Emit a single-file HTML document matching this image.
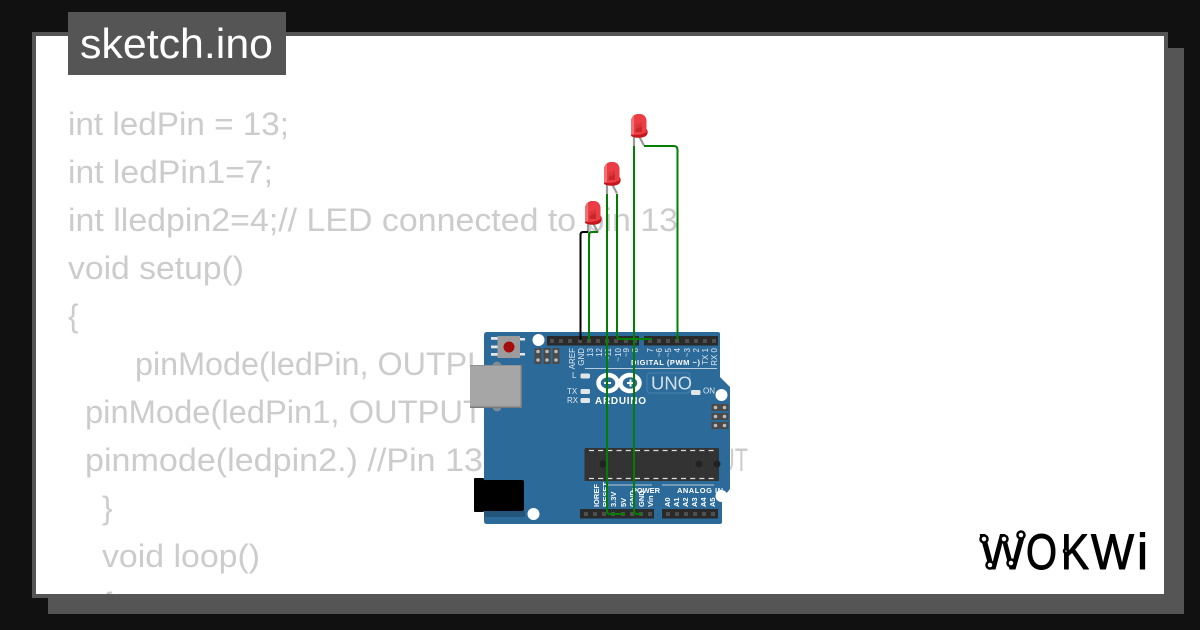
<!DOCTYPE html>
<html>
<head>
<meta charset="utf-8">
<style>
html,body{margin:0;padding:0;background:#111;width:1200px;height:630px;overflow:hidden}
svg{display:block}
.c{font-family:"Liberation Sans",sans-serif;font-size:32px;fill:#ccc}
</style>
</head>
<body>
<svg width="1200" height="630" viewBox="0 0 1200 630" xmlns="http://www.w3.org/2000/svg">
<defs>
<clipPath id="page"><rect x="36" y="36" width="1128" height="558"/></clipPath>
<g id="led">
  <path d="M3 22 V32 M8 22 L13 31.500" stroke="#9a9a9a" stroke-width="2.200" fill="none"/>
  <path d="M0 8 C0 3 3 0 8 0 C13 0 15.500 3 15.500 8 V15 C17.500 17 17 21 14 22.500 C10 24.500 3 24 0 22 Z" fill="#c4161c"/>
  <path d="M0 8 C0 3 3 0 8 0 C13 0 15.500 3 15.500 8 V18 C11 21 5 21.500 0 20.500 Z" fill="#ec3d44"/>
  <path d="M4.500 11 L11 8.500 V18 H4.500 Z" fill="#c9262b"/>
  <path d="M4.500 11 L11 8.500 V12 L4.500 15 Z" fill="#d9363b"/>
  <path d="M0 8 C0 4 2 2 3 1 V20 L0 21 Z" fill="#f59a9c" opacity=".55"/>
</g>
</defs>

<rect width="1200" height="630" fill="#111"/>
<rect x="48" y="48" width="1136" height="566" fill="#555"/>
<rect x="32" y="32" width="1136" height="566" fill="#555"/>
<rect x="36" y="36" width="1128" height="558" fill="#fff"/>

<g clip-path="url(#page)">
<text class="c" x="68" y="135" textLength="221" lengthAdjust="spacingAndGlyphs">int ledPin = 13;</text>
<text class="c" x="68" y="183" textLength="205" lengthAdjust="spacingAndGlyphs">int ledPin1=7;</text>
<text class="c" x="68" y="231" textLength="610" lengthAdjust="spacingAndGlyphs">int lledpin2=4;// LED connected to pin 13</text>
<text class="c" x="68" y="279" textLength="176" lengthAdjust="spacingAndGlyphs">void setup()</text>
<text class="c" x="68" y="327">{</text>
<text class="c" x="135" y="375" textLength="395" lengthAdjust="spacingAndGlyphs">pinMode(ledPin, OUTPUT);</text>
<text class="c" x="85" y="423" textLength="418" lengthAdjust="spacingAndGlyphs">pinMode(ledPin1, OUTPUT);</text>
<text class="c" x="85" y="471" textLength="398" lengthAdjust="spacingAndGlyphs">pinmode(ledpin2.) //Pin 13</text>
<text class="c" x="600" y="471" textLength="148" lengthAdjust="spacingAndGlyphs">as an OUTPUT</text>
<text class="c" x="102" y="519">}</text>
<text class="c" x="102" y="567" textLength="158" lengthAdjust="spacingAndGlyphs">void loop()</text>
<text class="c" x="102" y="615">{</text>
</g>

<rect x="68" y="12" width="218" height="63" fill="#555"/>
<text x="80" y="58" font-family="'Liberation Sans',sans-serif" font-size="42" fill="#fff" textLength="193" lengthAdjust="spacingAndGlyphs">sketch.ino</text>

<!-- board -->
<path d="M487 332 H718 Q720 332 720 334 V377 L730 387 V489 L722 499 V522 Q722 524 720 524 H487 Q484 524 484 521 V335 Q484 332 487 332 Z" fill="#2b6a99"/>
<!-- USB -->
<circle cx="497" cy="366" r="4.500" fill="#7e8b95"/>
<circle cx="497" cy="407" r="4.500" fill="#7e8b95"/>
<rect x="470" y="365" width="52" height="43" fill="#7c7c7c"/>
<rect x="470" y="365.500" width="50.500" height="41" fill="#a6a6a6"/>
<!-- jack -->
<rect x="484" y="511" width="41" height="6" fill="#23557b"/>
<rect x="474" y="478" width="10" height="34" rx="1" fill="#000"/>
<rect x="483" y="480" width="41" height="31" rx="2" fill="#000"/>
<!-- reset -->
<g fill="#e6e6e6"><rect x="491" y="337" width="7" height="2.800"/><rect x="491" y="345.500" width="7" height="2.800"/><rect x="491" y="353" width="7" height="2.800"/><rect x="520" y="338" width="5" height="2.500"/><rect x="520" y="353" width="5" height="2.500"/></g>
<rect x="497.500" y="336" width="22.500" height="22" fill="#9c9c9c"/>
<circle cx="509" cy="347" r="5.500" fill="#a50d0d"/>
<!-- holes -->
<g fill="#fff"><circle cx="538.500" cy="340" r="6"/><circle cx="533.500" cy="514" r="6"/><circle cx="721.500" cy="395" r="6"/><circle cx="721.500" cy="496" r="6"/></g>
<!-- ICSP -->
<g fill="#4a4a4a"><rect x="534.500" y="348" width="7" height="16"/><rect x="543.500" y="348" width="7" height="16"/><rect x="552.500" y="348" width="7" height="16"/><rect x="711.500" y="404" width="17" height="7"/><rect x="711.500" y="413" width="17" height="7"/><rect x="711.500" y="422" width="17" height="7"/></g>
<g fill="#bbb"><circle cx="538" cy="351.500" r="1.800"/><circle cx="538" cy="360" r="1.800"/><circle cx="547" cy="351.500" r="1.800"/><circle cx="547" cy="360" r="1.800"/><circle cx="556" cy="351.500" r="1.800"/><circle cx="556" cy="360" r="1.800"/><circle cx="715.500" cy="407.500" r="1.800"/><circle cx="724.500" cy="407.500" r="1.800"/><circle cx="715.500" cy="416.500" r="1.800"/><circle cx="724.500" cy="416.500" r="1.800"/><circle cx="715.500" cy="425.500" r="1.800"/><circle cx="724.500" cy="425.500" r="1.800"/></g>
<!-- headers -->
<rect x="547" y="336" width="92" height="9.500" fill="#2a2a2a"/>
<rect x="644" y="336" width="74" height="9.500" fill="#2a2a2a"/>
<rect x="580" y="509" width="74" height="9.500" fill="#2a2a2a"/>
<rect x="662" y="509" width="56" height="9.500" fill="#2a2a2a"/>
<g fill="#4f4f4f">
<rect x="550" y="339" width="4" height="4"/><rect x="559" y="339" width="4" height="4"/><rect x="568" y="339" width="4" height="4"/><rect x="578" y="339" width="4" height="4"/><rect x="587" y="339" width="4" height="4"/><rect x="596" y="339" width="4" height="4"/><rect x="605" y="339" width="4" height="4"/><rect x="614" y="339" width="4" height="4"/><rect x="624" y="339" width="4" height="4"/><rect x="633" y="339" width="4" height="4"/>
<rect x="648" y="339" width="4" height="4"/><rect x="657" y="339" width="4" height="4"/><rect x="666" y="339" width="4" height="4"/><rect x="675" y="339" width="4" height="4"/><rect x="685" y="339" width="4" height="4"/><rect x="694" y="339" width="4" height="4"/><rect x="703" y="339" width="4" height="4"/><rect x="712" y="339" width="4" height="4"/>
<rect x="584" y="512" width="4" height="4"/><rect x="593" y="512" width="4" height="4"/><rect x="602" y="512" width="4" height="4"/><rect x="611" y="512" width="4" height="4"/><rect x="621" y="512" width="4" height="4"/><rect x="630" y="512" width="4" height="4"/><rect x="639" y="512" width="4" height="4"/><rect x="648" y="512" width="4" height="4"/>
<rect x="666" y="512" width="4" height="4"/><rect x="675" y="512" width="4" height="4"/><rect x="684" y="512" width="4" height="4"/><rect x="693" y="512" width="4" height="4"/><rect x="702" y="512" width="4" height="4"/><rect x="711" y="512" width="4" height="4"/>
</g>
<!-- labels top -->
<g fill="#dfe8ef" font-family="'Liberation Sans',sans-serif" font-size="8" text-anchor="end">
<text transform="translate(575,348) rotate(-90)">AREF</text>
<text transform="translate(584,348) rotate(-90)">GND</text>
<text transform="translate(593,348) rotate(-90)">13</text>
<text transform="translate(602,348) rotate(-90)">12</text>
<text transform="translate(611,348) rotate(-90)">~11</text>
<text transform="translate(621,348) rotate(-90)">~10</text>
<text transform="translate(629,348) rotate(-90)">~9</text>
<text transform="translate(638,348) rotate(-90)">8</text>
<text transform="translate(653,348) rotate(-90)">7</text>
<text transform="translate(662,348) rotate(-90)">~6</text>
<text transform="translate(671,348) rotate(-90)">~5</text>
<text transform="translate(680,348) rotate(-90)">4</text>
<text transform="translate(690,348) rotate(-90)">~3</text>
<text transform="translate(699,348) rotate(-90)">2</text>
<text transform="translate(708,348) rotate(-90)">TX 1</text>
<text transform="translate(717,348) rotate(-90)">RX 0</text>
</g>
<!-- labels bottom -->
<g font-family="'Liberation Sans',sans-serif" font-size="7.500" font-weight="bold" fill="#fff">
<text transform="translate(599,507) rotate(-90)">IOREF</text>
<text transform="translate(608,507) rotate(-90)">RESET</text>
<text transform="translate(616,507) rotate(-90)">3.3V</text>
<text transform="translate(626,507) rotate(-90)">5V</text>
<text transform="translate(635,507) rotate(-90)">GND</text>
<text transform="translate(644,507) rotate(-90)">GND</text>
<text transform="translate(653,507) rotate(-90)">Vin</text>
<text transform="translate(670,507) rotate(-90)">A0</text>
<text transform="translate(679,507) rotate(-90)">A1</text>
<text transform="translate(688,507) rotate(-90)">A2</text>
<text transform="translate(697,507) rotate(-90)">A3</text>
<text transform="translate(706,507) rotate(-90)">A4</text>
<text transform="translate(715,507) rotate(-90)">A5</text>
<text x="632" y="493" textLength="28" lengthAdjust="spacing">POWER</text>
<text x="677" y="493" textLength="46" lengthAdjust="spacing">ANALOG IN</text>
<text x="631" y="365" textLength="69" lengthAdjust="spacing">DIGITAL (PWM ~)</text>
</g>
<g font-family="'Liberation Sans',sans-serif" font-size="8" fill="#dfe8ef">
<text x="572" y="378">L</text>
<text x="567" y="394">TX</text>
<text x="567" y="403">RX</text>
<text x="703" y="393.500">ON</text>
</g>
<g stroke="#e8eef3" stroke-width="0.800" fill="none"><path d="M585 368.500 H717"/><path d="M608 485 H652"/><path d="M662 485 H714"/></g>
<!-- small LEDs -->
<g fill="#dfe6ea"><rect x="580.500" y="373.500" width="9.500" height="5" rx="1.500"/><rect x="580.500" y="389" width="9.500" height="5" rx="1.500"/><rect x="580.500" y="398" width="9.500" height="5" rx="1.500"/><rect x="691" y="390" width="9.500" height="5" rx="1.500"/></g>
<!-- logo -->
<g fill="none" stroke="#fff" stroke-width="4.500"><ellipse cx="608" cy="383" rx="9.500" ry="8"/><ellipse cx="630" cy="383" rx="9.500" ry="8"/></g>
<g stroke="#fff" stroke-width="2" fill="none"><path d="M604 383 H611 M627 383 H634 M630.500 379.500 V386.500"/></g>
<text x="595" y="404" font-family="'Liberation Sans',sans-serif" font-size="10" font-weight="bold" fill="#fff" textLength="51" lengthAdjust="spacing">ARDUINO</text>
<rect x="647" y="373" width="43" height="20" rx="3" fill="none" stroke="#4a83ad" stroke-width="1"/>
<text x="651" y="389.500" font-family="'Liberation Sans',sans-serif" font-size="18" fill="#d4e0ea" textLength="41" lengthAdjust="spacingAndGlyphs">UNO</text>
<!-- chip -->
<rect x="584.500" y="448" width="134.500" height="33" rx="1" fill="#333"/>
<g stroke="#ddd" stroke-width="1.200" stroke-dasharray="5 4.200"><path d="M589 450.500 H716"/><path d="M589 478.500 H716"/></g>
<circle cx="603" cy="464" r="3.500" fill="#222"/><circle cx="699" cy="464" r="3.500" fill="#222"/><circle cx="717" cy="464" r="3.500" fill="#222"/>

<!-- LEDs -->
<use href="#led" x="631" y="114"/>
<use href="#led" x="604" y="162"/>
<use href="#led" x="585" y="201"/>

<!-- wires -->
<g fill="none" stroke-linejoin="round">
<path d="M588 232 H583 Q580.500 232 580.500 235 V340" stroke="#000" stroke-width="2"/>
<g stroke="#007f00" stroke-width="2">
<path d="M598 232 H592 Q589 232 589 235 V340"/>
<path d="M607 194 V511 Q607 514 610 514 H625"/>
<path d="M617 194 V335 Q617 339 620 339 H652"/>
<path d="M634 146 V511 Q634 514 637 514 H642"/>
<path d="M644 146 H674 Q677.500 146 677.500 150 V340"/>
</g>
</g>

<!-- Wokwi wordmark -->
<g font-family="'Liberation Sans',sans-serif" font-size="50" fill="#000" stroke="#000" stroke-width="1" stroke-linejoin="round">
<text x="980" y="569" textLength="45" lengthAdjust="spacingAndGlyphs">W</text>
<text x="1026" y="569" textLength="31" lengthAdjust="spacingAndGlyphs">O</text>
<text x="1061" y="569" textLength="28" lengthAdjust="spacingAndGlyphs">K</text>
<text x="1091" y="569" textLength="43" lengthAdjust="spacingAndGlyphs">W</text>
<text x="1137" y="569" textLength="11" lengthAdjust="spacingAndGlyphs">i</text>
</g>
<g fill="#fff" stroke="#000" stroke-width="2.500"><circle cx="984" cy="539" r="3.500"/><circle cx="1004" cy="539" r="3.500"/><circle cx="1021" cy="535" r="3.500"/><circle cx="990" cy="565" r="3.500"/><circle cx="1011" cy="563" r="3.500"/><circle cx="1066" cy="551" r="2"/></g>
</svg>
</body>
</html>
